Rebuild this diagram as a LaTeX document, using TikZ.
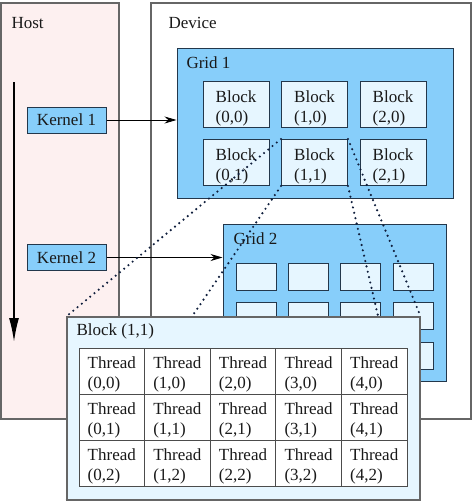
\documentclass[tikz,border=0pt]{standalone}
\usepackage{fontspec}
\setmainfont{Liberation Serif}
\usetikzlibrary{arrows.meta}
\definecolor{gridblue}{RGB}{135,206,250}
\definecolor{paleblue}{RGB}{230,246,255}
\definecolor{hostpink}{RGB}{253,240,240}
\definecolor{boxline}{RGB}{35,55,75}
\definecolor{dotnavy}{RGB}{15,30,60}
\pgfdeclarelayer{top}
\pgfsetlayers{main,top}

\begin{document}
\begin{tikzpicture}[x=1pt,y=-1pt,font=\fontsize{17}{20}\selectfont,text=black!90,
  panel/.style={draw=black!60,line width=1.2pt},
  kernelbox/.style={draw=boxline,fill=gridblue,line width=1pt,minimum width=79pt,minimum height=26pt,inner sep=0pt},
  gridbox/.style={draw=boxline,fill=gridblue,line width=1pt,inner sep=0pt},
  blockbox/.style={draw=boxline,fill=paleblue,line width=1pt,minimum width=66pt,minimum height=46pt,inner sep=0pt,
    label={[align=left,yshift=-4pt]center:{#1}}},
  subblock/.style={draw=boxline,fill=paleblue,line width=1pt,minimum width=40pt,minimum height=27pt,inner sep=0pt},
  threadcell/.style={draw=black!70,fill=white,line width=0.8pt,minimum width=65.6pt,minimum height=46pt,inner sep=0pt,
    label={[align=left,yshift=-3pt]center:{#1}}},
  kernelarrow/.style={draw=black,line width=0.8pt,-{Stealth[length=12pt,width=7pt]}},
  timearrow/.style={draw=black,line width=1.8pt,-{Latex[length=24pt,width=10pt]}},
  zoomline/.style={draw=dotnavy,line width=2.4pt,line cap=round,dash pattern=on 0pt off 5.5pt}]
\useasboundingbox (0,0) rectangle (474,501);
\draw[panel,fill=hostpink] (1,3) rectangle (119,419);
\draw[panel] (151,3) rectangle (471,419);
\node[anchor=base west] (hostlbl) at (8,28) {Host};
\node[anchor=base west] (devlbl) at (165,28) {Device};

\node[kernelbox] (k1) at (66.5,120) {Kernel 1};
\node[kernelbox] (k2) at (66.5,257.5) {Kernel 2};
\coordinate (tstart) at (14,82);
\coordinate (tend) at (14,342);
\draw[timearrow] (tstart) -- (tend);

\node[gridbox,minimum width=276pt,minimum height=150pt] (g1) at (315,123) {};
\node[anchor=base west] (g1lbl) at (183,68) {Grid 1};
\foreach \i in {0,1,2}
  \foreach \j in {0,1}
    \node[blockbox={Block\\(\i,\j)}] (b\i\j) at (236+78.5*\i,104+58.5*\j) {};

\node[gridbox,minimum width=223pt,minimum height=157pt] (g2) at (334.5,302.5) {};
\node[anchor=base west] (g2lbl) at (230,244) {Grid 2};
\foreach \i in {0,...,3}
  \foreach \j in {0,1,2}
    \node[subblock] (s\i\j) at (256+52.4*\i,276.5+39.5*\j) {};

\draw[kernelarrow] (k1.east) -- (k1.east -| g1.west);
\draw[kernelarrow] (k2.east) -- (k2.east -| g2.west);

\begin{pgfonlayer}{top}
\node[fill=paleblue,draw=black!60,line width=1.2pt,minimum width=353pt,minimum height=183pt] (blk) at (243.5,408.5) {};
\node[anchor=base west] (blklbl) at (73,335) {Block (1,1)};
\foreach \i in {0,...,4}
  \foreach \j in {0,1,2}
    \node[threadcell={Thread\\(\i,\j)}] (t\i\j) at (111.8+65.6*\i,371+46*\j) {};
\end{pgfonlayer}

\draw[zoomline] (b11.north west) -- (blk.north west);
\draw[zoomline] (b11.south west) -- (blk.south west);
\draw[zoomline] (b11.north east) -- (blk.north east);
\draw[zoomline] (b11.south east) -- (blk.south east);

\end{tikzpicture}
\end{document}
